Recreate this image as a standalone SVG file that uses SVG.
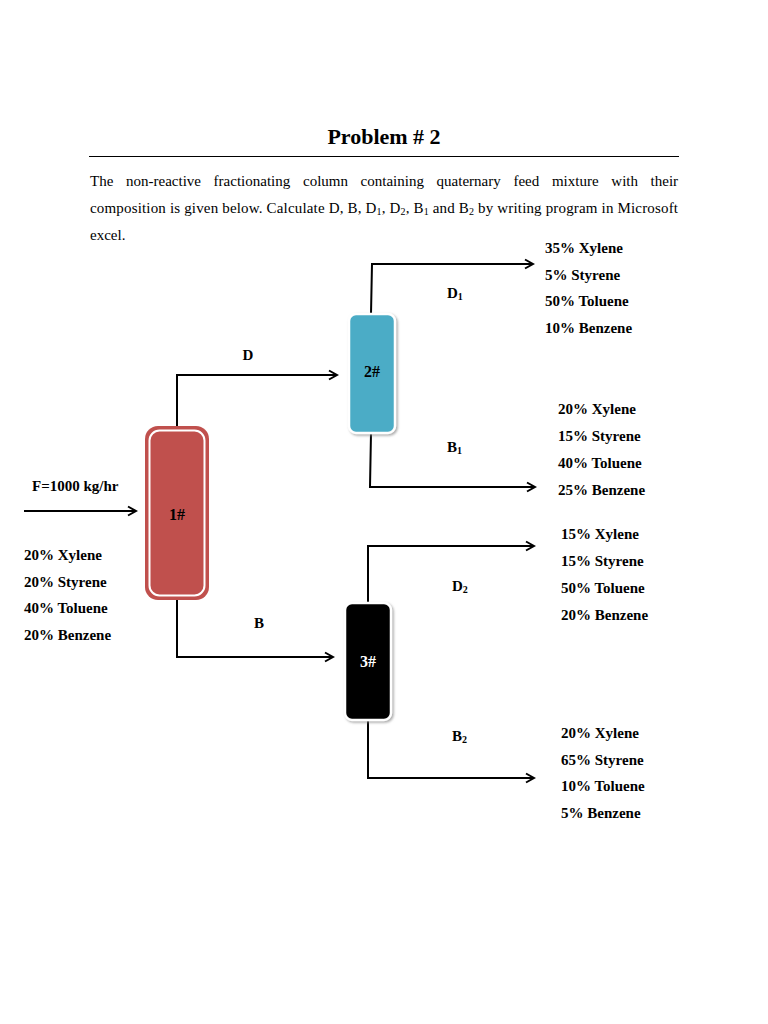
<svg xmlns="http://www.w3.org/2000/svg" width="768" height="1024" viewBox="0 0 768 1024">
<style>
.t{font-family:"Liberation Serif","Times New Roman",serif;fill:#000}
.p{font-size:15px}
.b{font-size:15px;font-weight:bold}
.lbl{font-size:16px;font-weight:bold}
.c{fill:none;stroke:#000;stroke-width:2}
</style>
<defs>
<marker id="ah" markerWidth="12" markerHeight="12" refX="10" refY="6" orient="auto" markerUnits="userSpaceOnUse">
<path d="M2,1.5 L10,6 L2,10.5" fill="none" stroke="#000" stroke-width="2"/>
</marker>
<filter id="sh" x="-20%" y="-20%" width="150%" height="150%">
<feDropShadow dx="1.5" dy="1.5" stdDeviation="1" flood-color="#888" flood-opacity="0.7"/>
</filter>
</defs>
<rect width="768" height="1024" fill="#fff"/>
<g id="header">
<text class="t" x="384" y="144" text-anchor="middle" font-size="22" font-weight="bold">Problem # 2</text>
<line x1="89" y1="156.5" x2="679" y2="156.5" stroke="#000" stroke-width="1.2"/>
<text class="t p" y="186"><tspan x="90">The</tspan><tspan x="126">non-reactive</tspan><tspan x="213.6">fractionating</tspan><tspan x="303">column</tspan><tspan x="360.6">containing</tspan><tspan x="436.6">quaternary</tspan><tspan x="513.4">feed</tspan><tspan x="551.9">mixture</tspan><tspan x="611.3">with</tspan><tspan x="650.6">their</tspan></text>
<text class="t p" x="90" y="213" textLength="588" lengthAdjust="spacing">composition is given below. Calculate D, B, D<tspan font-size="10" dy="2">1</tspan><tspan dy="-2">, D</tspan><tspan font-size="10" dy="2">2</tspan><tspan dy="-2">, B</tspan><tspan font-size="10" dy="2">1</tspan><tspan dy="-2"> and B</tspan><tspan font-size="10" dy="2">2</tspan><tspan dy="-2"> by writing program in Microsoft</tspan></text>
<text class="t p" x="90" y="240">excel.</text>
</g>
<g id="connectors">
<path class="c" d="M24,511 H136" marker-end="url(#ah)"/>
<path class="c" d="M177,427 V375 H337" marker-end="url(#ah)"/>
<path class="c" d="M177,599 V657 H333" marker-end="url(#ah)"/>
<path class="c" d="M371,314 L372,264 H533" marker-end="url(#ah)"/>
<path class="c" d="M371,433 L370,487 H535" marker-end="url(#ah)"/>
<path class="c" d="M368,603 V546 H534" marker-end="url(#ah)"/>
<path class="c" d="M368,720 V778 H534" marker-end="url(#ah)"/>
</g>
<g id="col1">
<rect x="145" y="426" width="64" height="174" rx="13" fill="#C0504D"/>
<rect x="149.5" y="430.5" width="55" height="165" rx="10" fill="none" stroke="#fff" stroke-width="2"/>
<text class="t lbl" x="177" y="520" text-anchor="middle">1#</text>
</g>
<g id="col2">
<rect x="349" y="314" width="46" height="119" rx="7" fill="#4BACC6" stroke="#fff" stroke-width="2.5" filter="url(#sh)"/>
<text class="t lbl" x="372" y="377" text-anchor="middle">2#</text>
</g>
<g id="col3">
<rect x="345" y="603" width="46" height="117" rx="7" fill="#000" stroke="#fff" stroke-width="2.5" filter="url(#sh)"/>
<text class="t lbl" x="368" y="667" text-anchor="middle" style="fill:#fff">3#</text>
</g>
<g id="labels">
<text class="t b" x="248" y="360" text-anchor="middle">D</text>
<text class="t b" x="259" y="628" text-anchor="middle">B</text>
<text class="t b" x="447" y="298">D<tspan font-size="10" dy="2">1</tspan></text>
<text class="t b" x="447" y="452">B<tspan font-size="10" dy="2">1</tspan></text>
<text class="t b" x="452" y="591">D<tspan font-size="10" dy="2">2</tspan></text>
<text class="t b" x="452" y="741">B<tspan font-size="10" dy="2">2</tspan></text>
</g>
<g id="feed">
<text class="t b" x="32" y="491">F=1000 kg/hr</text>
<text class="t b" x="24" y="560">20% Xylene</text>
<text class="t b" x="24" y="587">20% Styrene</text>
<text class="t b" x="24" y="613">40% Toluene</text>
<text class="t b" x="24" y="640">20% Benzene</text>
</g>
<g id="d1comp">
<text class="t b" x="545" y="253">35% Xylene</text>
<text class="t b" x="545" y="280">5% Styrene</text>
<text class="t b" x="545" y="306">50% Toluene</text>
<text class="t b" x="545" y="333">10% Benzene</text>
</g>
<g id="b1comp">
<text class="t b" x="558" y="414">20% Xylene</text>
<text class="t b" x="558" y="441">15% Styrene</text>
<text class="t b" x="558" y="468">40% Toluene</text>
<text class="t b" x="558" y="495">25% Benzene</text>
</g>
<g id="d2comp">
<text class="t b" x="561" y="539">15% Xylene</text>
<text class="t b" x="561" y="566">15% Styrene</text>
<text class="t b" x="561" y="593">50% Toluene</text>
<text class="t b" x="561" y="620">20% Benzene</text>
</g>
<g id="b2comp">
<text class="t b" x="561" y="738">20% Xylene</text>
<text class="t b" x="561" y="765">65% Styrene</text>
<text class="t b" x="561" y="791">10% Toluene</text>
<text class="t b" x="561" y="818">5% Benzene</text>
</g>
</svg>
